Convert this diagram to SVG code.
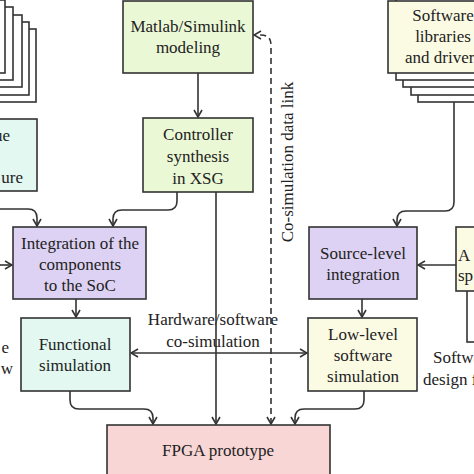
<svg xmlns="http://www.w3.org/2000/svg" width="474" height="474" viewBox="0 0 474 474">
<defs>
<style>
.box{stroke:#333;stroke-width:1.6}
.g{fill:#ebf8d6}.c{fill:#e2f8f1}.p{fill:#ddd2f3}.y{fill:#fbfbe4}.r{fill:#f8d6d6}.w{fill:#fff}
text{font-family:"Liberation Serif","Times New Roman",serif;font-size:17px;fill:#222;text-anchor:middle}
.ln{fill:none;stroke:#333;stroke-width:1.6}
.d{stroke-dasharray:6,4}
</style>
<marker id="a" viewBox="0 0 10 10" refX="9" refY="5" markerWidth="10" markerHeight="10" markerUnits="userSpaceOnUse" orient="auto-start-reverse">
<path d="M2,1 L9,5 L2,9" fill="none" stroke="#333" stroke-width="1.6"/>
</marker>
</defs>

<g id="hw-docs">
<rect class="box w" x="-80" y="29" width="116" height="73"/>
<rect class="box w" x="-80" y="22" width="109" height="73"/>
<rect class="box w" x="-80" y="15" width="102" height="72"/>
<rect class="box w" x="-80" y="7" width="93" height="73"/>
<rect class="box w" x="-80" y="0" width="85" height="73"/>
</g>

<g id="hw-arch">
<rect class="box c" x="-80" y="119" width="117" height="72"/>
<text x="10" y="141" text-anchor="end" style="text-anchor:end">ue</text>
<text x="23" y="183" style="text-anchor:end">ure</text>
</g>

<g id="matlab">
<rect class="box g" x="123" y="1" width="130" height="72"/>
<text x="188" y="32">Matlab/Simulink</text>
<text x="188" y="53">modeling</text>
</g>

<g id="controller">
<rect class="box g" x="143" y="118" width="110" height="74"/>
<text x="198" y="140">Controller</text>
<text x="198" y="162">synthesis</text>
<text x="198" y="184">in XSG</text>
</g>

<g id="sw-libs">
<rect class="box w" x="418" y="-20" width="100" height="122"/>
<rect class="box w" x="411" y="-20" width="100" height="115"/>
<rect class="box w" x="403" y="-20" width="100" height="107"/>
<rect class="box w" x="396" y="-20" width="100" height="100"/>
<rect class="box y" x="388" y="1" width="110" height="72"/>
<text x="443" y="21">Software</text>
<text x="443" y="42">libraries</text>
<text x="443" y="63">and drivers</text>
</g>

<g id="integration">
<rect class="box p" x="13" y="227" width="133" height="72"/>
<text x="80" y="249">Integration of the</text>
<text x="80" y="270">components</text>
<text x="80" y="291">to the SoC</text>
</g>

<g id="source-level">
<rect class="box p" x="309" y="227" width="108" height="72"/>
<text x="363" y="259">Source-level</text>
<text x="363" y="280">integration</text>
</g>

<g id="app-spec">
<rect class="box w" x="467" y="250" width="60" height="92"/>
<rect class="box y" x="456" y="227" width="60" height="64"/>
<text x="458" y="261" style="text-anchor:start">A</text>
<text x="458" y="281" style="text-anchor:start">sp</text>
</g>

<g id="functional">
<rect class="box c" x="21" y="318" width="109" height="73"/>
<text x="75" y="350">Functional</text>
<text x="75" y="371">simulation</text>
</g>

<g id="low-level">
<rect class="box y" x="308" y="318" width="109" height="73"/>
<text x="363" y="340">Low-level</text>
<text x="363" y="361">software</text>
<text x="363" y="382">simulation</text>
</g>

<g id="fpga">
<rect class="box r" x="107" y="425" width="223" height="60"/>
<text x="218" y="456">FPGA prototype</text>
</g>

<g id="side-labels">
<text x="9" y="353" style="text-anchor:end">e</text>
<text x="13" y="374" style="text-anchor:end">w</text>
<text x="433" y="363" style="text-anchor:start">Software</text>
<text x="423" y="385" style="text-anchor:start">design flow</text>
<text x="213" y="325">Hardware/software</text>
<text x="213" y="347">co-simulation</text>
<text transform="translate(293,162) rotate(-90)">Co-simulation data link</text>
</g>

<g id="connectors">
<path class="ln" d="M198,73 V117" marker-end="url(#a)"/>
<path class="ln" d="M0,209 H28 Q37,209 37,218 V226" marker-end="url(#a)"/>
<path class="ln" d="M177,192 V201 Q177,210 168,210 H122 Q113,210 113,219 V226" marker-end="url(#a)"/>
<path class="ln" d="M0,265 H12" marker-end="url(#a)"/>
<path class="ln" d="M76,299 V317" marker-end="url(#a)"/>
<path class="ln" d="M454,102 V202 Q454,211 445,211 H406 Q397,211 397,220 V226" marker-end="url(#a)"/>
<path class="ln" d="M456,265 H418" marker-end="url(#a)"/>
<path class="ln" d="M362,299 V317" marker-end="url(#a)"/>
<path class="ln" d="M131,353 H307" marker-start="url(#a)" marker-end="url(#a)"/>
<path class="ln" d="M216,192 V424" marker-end="url(#a)"/>
<path class="ln d" d="M271,424 V45 Q271,35 261,35 H254" marker-start="url(#a)" marker-end="url(#a)"/>
<path class="ln" d="M70,391 V400 Q70,409 79,409 H144 Q153,409 153,418 V424" marker-end="url(#a)"/>
<path class="ln" d="M364,391 V400 Q364,409 355,409 H304 Q295,409 295,418 V424" marker-end="url(#a)"/>
</g>
</svg>
